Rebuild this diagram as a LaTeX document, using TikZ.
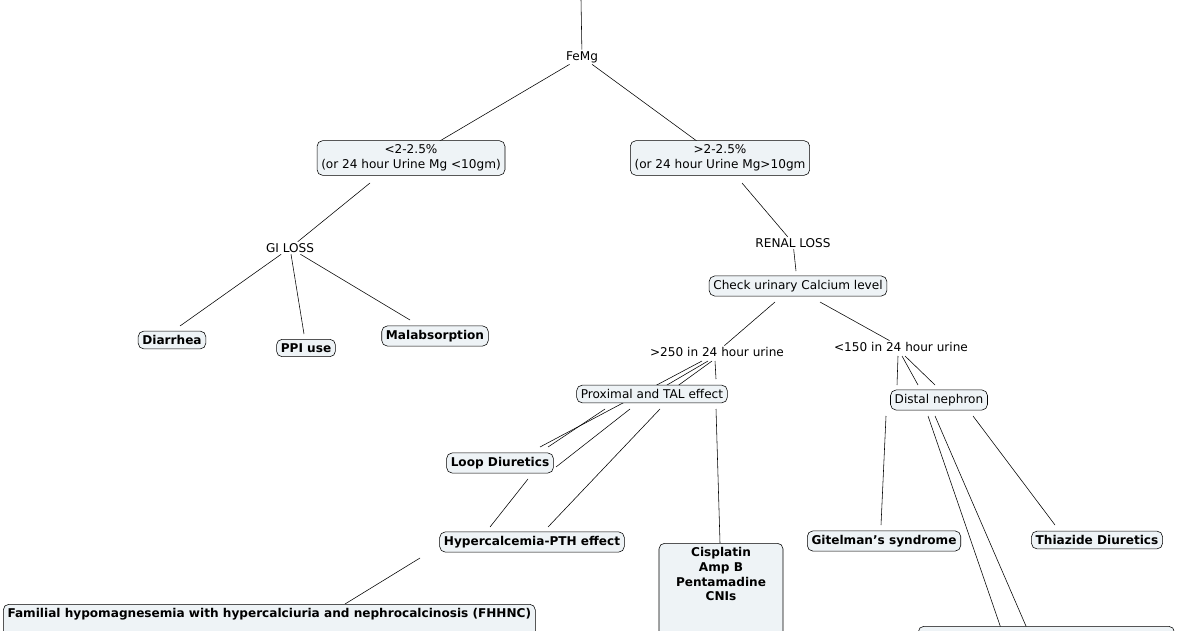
\documentclass[tikz,border=0pt]{standalone}
\usepackage{fontspec}
\setmainfont{DejaVu Sans}
\usepackage{tikz}
\usetikzlibrary{positioning,calc}
\definecolor{boxfill}{HTML}{EEF3F6}

\begin{document}
\begin{tikzpicture}[
  x=0.025cm, y=-0.025cm,
  font=\fontsize{8.6}{10.5}\selectfont,
  blk/.style={draw, rounded corners=4pt, fill=boxfill, align=center, inner sep=3pt},
  bblk/.style={blk, font=\fontsize{8.6}{10.5}\selectfont\bfseries},
  lab/.style={inner sep=1pt, fill=white},
  ln/.style={draw, thin}
]
\useasboundingbox (0,0) rectangle (1200,630);

% Labels
\coordinate (top) at (581,0);
\node[lab] (femg) at (582,57) {FeMg};
\node[lab] (gi) at (290,248) {GI LOSS};
\node[lab] (renal) at (793,243) {RENAL LOSS};
\node[lab] (hi) at (717,352) {>250 in 24 hour urine};
\node[lab] (lo) at (901,347) {<150 in 24 hour urine};

% Connections (behind boxes)
\draw[ln] (top) -- (femg);
\draw[ln] (femg) -- (411,158);
\draw[ln] (femg) -- (720,158);
\draw[ln] (370,183) -- (gi);
\draw[ln] (gi) -- (180,326);
\draw[ln] (gi) -- (304,334);
\draw[ln] (gi) -- (410,320);
\draw[ln] (742,183) -- (renal);
\draw[ln] (renal) -- (796,271);
\draw[ln] (775,302) -- (hi);
\draw[ln] (820,302) -- (lo);
\draw[ln] (715,361) -- (716,379);
\draw[ln] (702,361) -- (540,447);
\draw[ln] (708,361) -- (650,395);
\draw[ln] (712,361) -- (665,395);
\draw[ln] (605,409) -- (548,447);
\draw[ln] (630,409) -- (556,467);
\draw[ln] (660,409) -- (548,527);
\draw[ln] (528,479) -- (490,527);
\draw[ln] (716,409) -- (720,543);
\draw[ln] (420,558) -> (345,604);
\draw[ln] (898,356) -- (897,385);
\draw[ln] (902,356) -- (918,385);
\draw[ln] (905,356) -- (935,385);
\draw[ln] (886,416) -- (881,525);
\draw[ln] (928,416) -- (1005,640);
\draw[ln] (935,416) -- (1032,640);
\draw[ln] (973,416) -- (1055,525);

% Boxes
\node[blk] (low) at (411,158) {<2-2.5\%\\(or 24 hour Urine Mg <10gm)};
\node[blk] (high) at (720,158) {>2-2.5\%\\(or 24 hour Urine Mg>10gm};
\node[bblk] (diar) at (172,340) {Diarrhea};
\node[bblk] (ppi) at (306,348) {PPI use};
\node[bblk] (malab) at (435,336) {Malabsorption};
\node[blk] (check) at (798,286) {Check urinary Calcium level};
\node[blk] (prox) at (652,394) {Proximal and TAL effect};
\node[blk] (dist) at (939,400) {Distal nephron};
\node[bblk] (loop) at (500,463) {Loop Diuretics};
\node[bblk] (hyper) at (532,542) {Hypercalcemia-PTH effect};
\node[bblk, anchor=north, minimum width=3.1cm, minimum height=2.4cm, align=center, text depth=0pt] (cis) at (721,543) {Cisplatin\\Amp B\\Pentamadine\\CNIs\\[18pt]};
\node[bblk, anchor=north west] (fam) at (3,604) {Familial hypomagnesemia with hypercalciuria and nephrocalcinosis (FHHNC)\\[6pt]};
\node[bblk] (git) at (884,541) {Gitelman's syndrome};
\node[bblk] (thia) at (1097,540) {Thiazide Diuretics};
\node[blk, anchor=north west, minimum width=6.4cm, minimum height=1cm] (bot) at (918,626) {};
\end{tikzpicture}
\end{document}
